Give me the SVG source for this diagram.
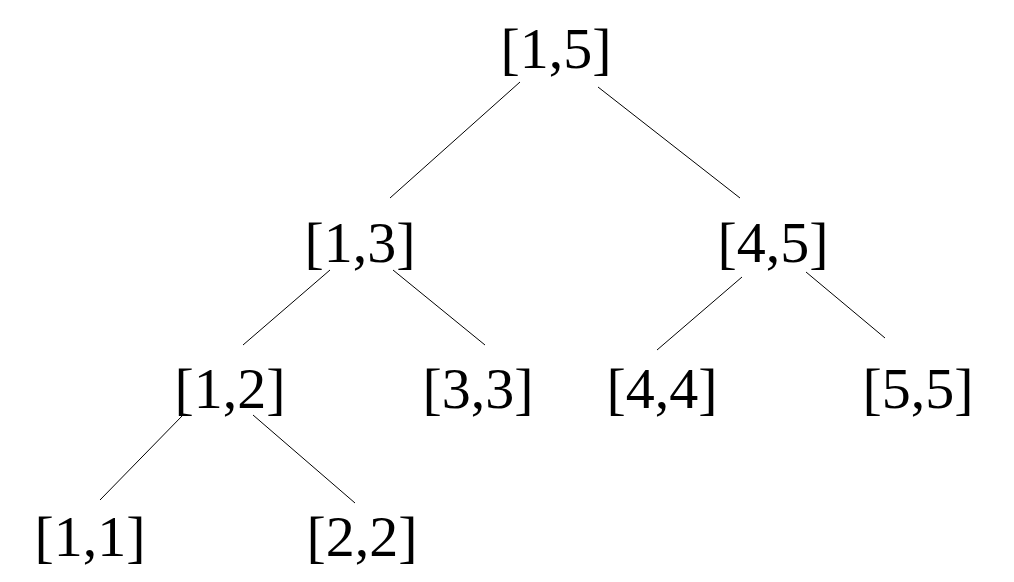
<svg xmlns="http://www.w3.org/2000/svg" width="1014" height="582" viewBox="0 0 1014 582">
<style>
text{font-family:"Liberation Serif",serif;font-size:58px;text-anchor:middle;fill:#000}
line{stroke:#000;stroke-width:1}
</style>
<rect width="1014" height="582" fill="#fff"/>
<g id="connectors">
<line x1="520" y1="82" x2="390" y2="198"/>
<line x1="598" y1="87" x2="740" y2="198"/>
<line x1="330" y1="270" x2="243" y2="345"/>
<line x1="393" y1="270" x2="485" y2="345"/>
<line x1="742" y1="277" x2="657" y2="350"/>
<line x1="806" y1="272" x2="885" y2="338"/>
<line x1="183" y1="415" x2="100" y2="500"/>
<line x1="253" y1="415" x2="355" y2="503"/>
</g>
<g id="n15"><text x="556" y="68">[1,5]</text></g>
<g id="n13"><text x="360" y="262">[1,3]</text></g>
<g id="n45"><text x="773" y="262">[4,5]</text></g>
<g id="n12"><text x="230" y="408">[1,2]</text></g>
<g id="n33"><text x="478" y="408">[3,3]</text></g>
<g id="n44"><text x="662" y="408">[4,4]</text></g>
<g id="n55"><text x="918" y="408">[5,5]</text></g>
<g id="n11"><text x="90" y="556">[1,1]</text></g>
<g id="n22"><text x="362" y="556">[2,2]</text></g>
</svg>
